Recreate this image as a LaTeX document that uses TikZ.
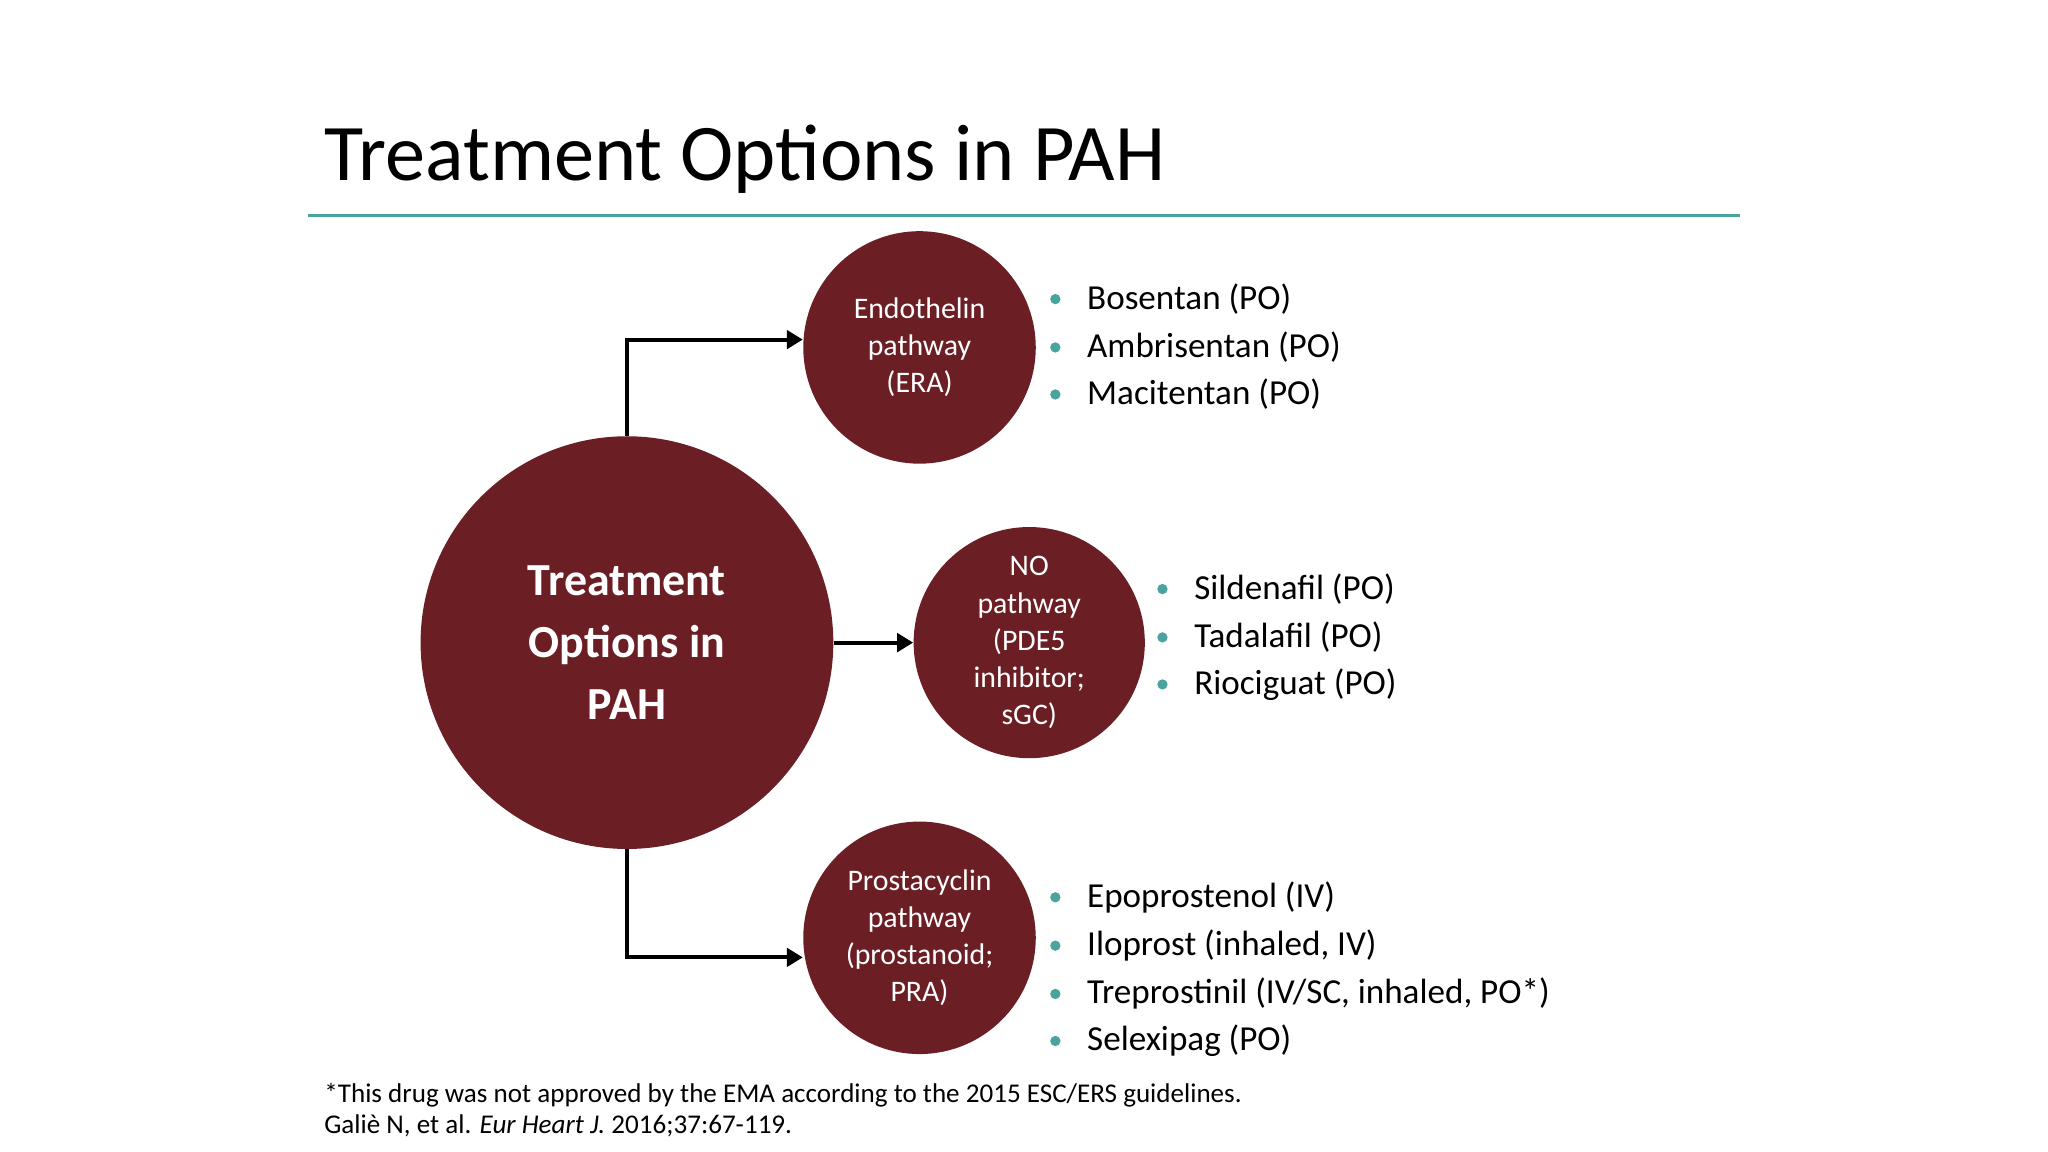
\documentclass[tikz,border=0pt]{standalone}
\usepackage{fontspec}
\setmainfont{Carlito}
\usetikzlibrary{arrows.meta}
\definecolor{wine}{HTML}{6B1F24}
\definecolor{teal2}{HTML}{4BA3A0}
\begin{document}
\begin{tikzpicture}[x=0.02cm,y=-0.02cm,
  circ/.style={circle,fill=wine,text=white,align=center,inner sep=0pt},
  conn/.style={line width=1.8pt,-{Triangle[length=7pt,width=8pt]}},
  item/.style={anchor=west,font=\fontsize{15.3}{21}\selectfont,inner sep=0pt},
  bul/.style={circle,fill=teal2,inner sep=0pt,minimum size=4.5pt}]
\useasboundingbox[fill=white] (0,0) rectangle (1568,882);
\node[anchor=base west,inner sep=0pt,font=\fontsize{35}{40}\selectfont] (title) at (248,138) {Treatment Options in PAH};
\draw[teal2,line width=1.6pt] (236,165) coordinate (l1) -- (1332,165) coordinate (l2);
\node[circ,minimum size=316*0.02cm,font=\bfseries\fontsize{20}{27}\selectfont] (main) at (480,492) {Treatment\\Options in\\PAH};
\node[circ,minimum size=178*0.02cm,font=\fontsize{13}{16.2}\selectfont] (era) at (704,266) {Endothelin\\pathway\\(ERA)};
\node[circ,minimum size=177*0.02cm,font=\fontsize{13}{16.2}\selectfont] (no) at (788,492) {NO\\pathway\\(PDE5\\inhibitor;\\sGC)};
\node[circ,minimum size=178*0.02cm,font=\fontsize{13}{16.2}\selectfont] (pra) at (704,718) {Prostacyclin\\pathway\\(prostanoid;\\PRA)};
\coordinate (c1) at (480,260);
\coordinate (c2) at (480,733);
\draw[conn] (main.north) -- (c1) -- (era.west |- c1);
\draw[conn] (main.east) -- (no.west);
\draw[conn] (main.south) -- (c2) -- (pra.west |- c2);
\foreach \y/\t [count=\i] in {229/Bosentan (PO),266/Ambrisentan (PO),302/Macitentan (PO)}{
  \node[bul] (ba\i) at (808,\y) {}; \node[item] (ia\i) at (832,\y) {\t};}
\foreach \y/\t [count=\i] in {451/Sildenafil (PO),488/Tadalafil (PO),524/Riociguat (PO)}{
  \node[bul] (bb\i) at (890,\y) {}; \node[item] (ib\i) at (914,\y) {\t};}
\foreach \y/\t [count=\i] in {687/Epoprostenol (IV),724/{Iloprost (inhaled, IV)},761/{Treprostinil (IV/SC, inhaled, PO*)},797/Selexipag (PO)}{
  \node[bul] (bc\i) at (808,\y) {}; \node[item] (ic\i) at (832,\y) {\t};}
\node[anchor=base west,inner sep=0pt,font=\fontsize{11.8}{14}\selectfont] (fn1) at (248,844) {*This drug was not approved by the EMA according to the 2015 ESC/ERS guidelines.};
\node[anchor=base west,inner sep=0pt,font=\fontsize{11.8}{14}\selectfont] (fn2) at (248,868) {Galiè N, et al. \textit{Eur Heart J.} 2016;37:67-119.};
\end{tikzpicture}
\end{document}
